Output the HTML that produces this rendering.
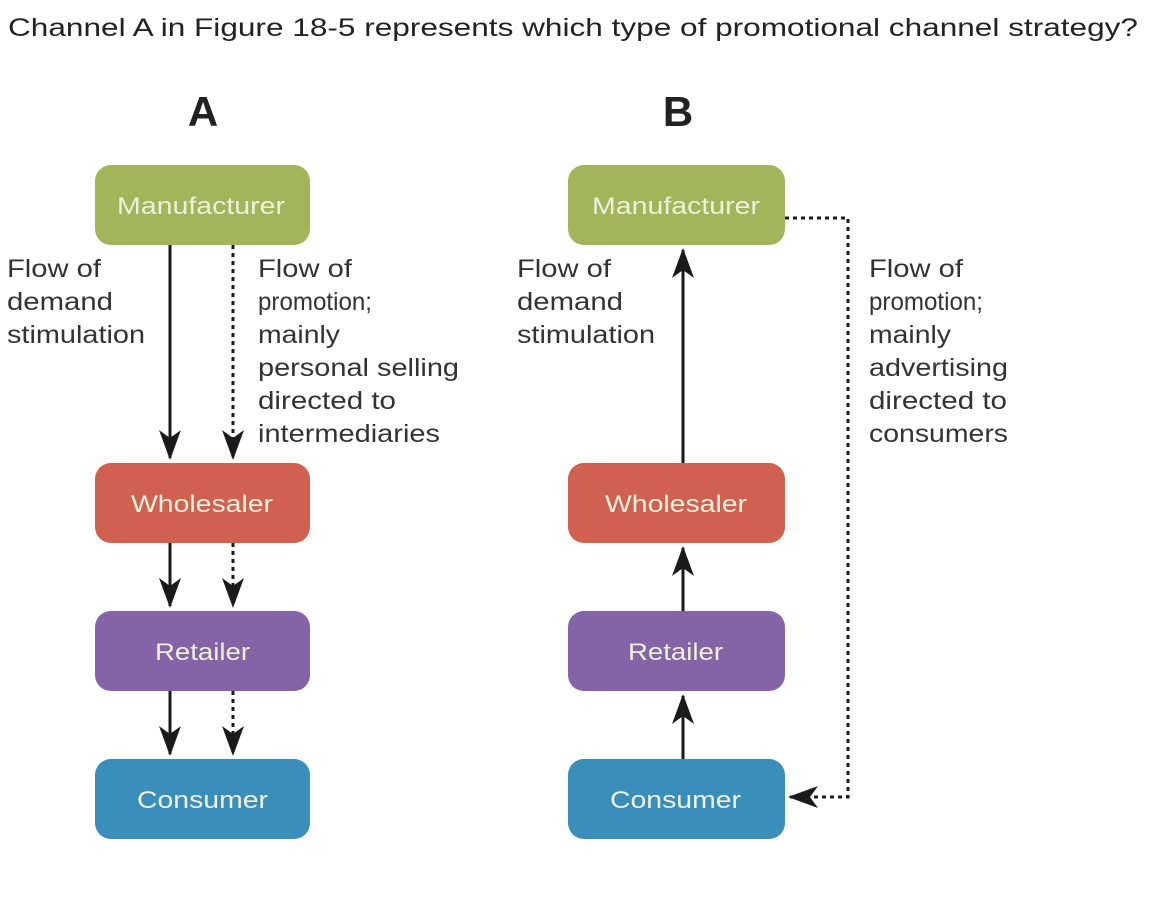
<!DOCTYPE html>
<html><head><style>
body{margin:0;background:#fff;width:1164px;height:914px;overflow:hidden}
svg text{font-family:"Liberation Sans",sans-serif}
</style></head><body>
<svg width="1164" height="914" xmlns="http://www.w3.org/2000/svg">
<defs>
<marker id="ah" viewBox="0 0 30 22" refX="28" refY="11" markerWidth="30" markerHeight="22" markerUnits="userSpaceOnUse" orient="auto-start-reverse">
<path d="M0,0 L30,11 L0,22 L8,11 Z" fill="#1a1a1a"/></marker>
</defs>
<text x="8" y="36" font-size="25" fill="#222" textLength="1130" lengthAdjust="spacingAndGlyphs">Channel A in Figure 18-5 represents which type of promotional channel strategy?</text>
<text x="203" y="126" font-size="42" font-weight="bold" text-anchor="middle" fill="#222">A</text>
<text x="678" y="126" font-size="42" font-weight="bold" text-anchor="middle" fill="#222">B</text>
<g font-size="24" fill="#eef0dc">
<rect x="95" y="165" width="215" height="80" rx="16" fill="#a3b45a"/><text x="117" y="214" textLength="168" lengthAdjust="spacingAndGlyphs">Manufacturer</text>
<rect x="95" y="463" width="215" height="80" rx="16" fill="#d0604f"/><text x="131" y="512" textLength="142" lengthAdjust="spacingAndGlyphs">Wholesaler</text>
<rect x="95" y="611" width="215" height="80" rx="16" fill="#8463a6"/><text x="155" y="660" textLength="95" lengthAdjust="spacingAndGlyphs">Retailer</text>
<rect x="95" y="759" width="215" height="80" rx="16" fill="#3a8fba"/><text x="137" y="808" textLength="131" lengthAdjust="spacingAndGlyphs">Consumer</text>
<rect x="568" y="165" width="217" height="80" rx="16" fill="#a3b45a"/><text x="592" y="214" textLength="168" lengthAdjust="spacingAndGlyphs">Manufacturer</text>
<rect x="568" y="463" width="217" height="80" rx="16" fill="#d0604f"/><text x="605" y="512" textLength="142" lengthAdjust="spacingAndGlyphs">Wholesaler</text>
<rect x="568" y="611" width="217" height="80" rx="16" fill="#8463a6"/><text x="628" y="660" textLength="95" lengthAdjust="spacingAndGlyphs">Retailer</text>
<rect x="568" y="759" width="217" height="80" rx="16" fill="#3a8fba"/><text x="610" y="808" textLength="131" lengthAdjust="spacingAndGlyphs">Consumer</text>
</g>
<g stroke="#1a1a1a" stroke-width="3" fill="none">
<line x1="170" y1="245" x2="170" y2="458" marker-end="url(#ah)"/>
<line x1="233" y1="245" x2="233" y2="458" stroke-dasharray="4,4" marker-end="url(#ah)"/>
<line x1="170" y1="543" x2="170" y2="606" marker-end="url(#ah)"/>
<line x1="233" y1="543" x2="233" y2="606" stroke-dasharray="4,4" marker-end="url(#ah)"/>
<line x1="170" y1="691" x2="170" y2="754" marker-end="url(#ah)"/>
<line x1="233" y1="691" x2="233" y2="754" stroke-dasharray="4,4" marker-end="url(#ah)"/>
<line x1="683" y1="463" x2="683" y2="250" marker-end="url(#ah)"/>
<line x1="683" y1="611" x2="683" y2="548" marker-end="url(#ah)"/>
<line x1="683" y1="759" x2="683" y2="696" marker-end="url(#ah)"/>
<polyline points="785,218 848,218 848,797 790,797" stroke-dasharray="4,4" marker-end="url(#ah)"/>
</g>
<g font-size="25" fill="#333">
<text x="7" y="277" textLength="94" lengthAdjust="spacingAndGlyphs">Flow of</text><text x="7" y="310" textLength="106" lengthAdjust="spacingAndGlyphs">demand</text><text x="7" y="343" textLength="138" lengthAdjust="spacingAndGlyphs">stimulation</text>
<text x="258" y="277" textLength="94" lengthAdjust="spacingAndGlyphs">Flow of</text><text x="258" y="310" textLength="114" lengthAdjust="spacingAndGlyphs">promotion;</text><text x="258" y="343" textLength="82" lengthAdjust="spacingAndGlyphs">mainly</text><text x="258" y="376" textLength="201" lengthAdjust="spacingAndGlyphs">personal selling</text><text x="258" y="409" textLength="138" lengthAdjust="spacingAndGlyphs">directed to</text><text x="258" y="442" textLength="182" lengthAdjust="spacingAndGlyphs">intermediaries</text>
<text x="517" y="277" textLength="94" lengthAdjust="spacingAndGlyphs">Flow of</text><text x="517" y="310" textLength="106" lengthAdjust="spacingAndGlyphs">demand</text><text x="517" y="343" textLength="138" lengthAdjust="spacingAndGlyphs">stimulation</text>
<text x="869" y="277" textLength="94" lengthAdjust="spacingAndGlyphs">Flow of</text><text x="869" y="310" textLength="114" lengthAdjust="spacingAndGlyphs">promotion;</text><text x="869" y="343" textLength="82" lengthAdjust="spacingAndGlyphs">mainly</text><text x="869" y="376" textLength="139" lengthAdjust="spacingAndGlyphs">advertising</text><text x="869" y="409" textLength="138" lengthAdjust="spacingAndGlyphs">directed to</text><text x="869" y="442" textLength="139" lengthAdjust="spacingAndGlyphs">consumers</text>
</g>
</svg>
</body></html>
